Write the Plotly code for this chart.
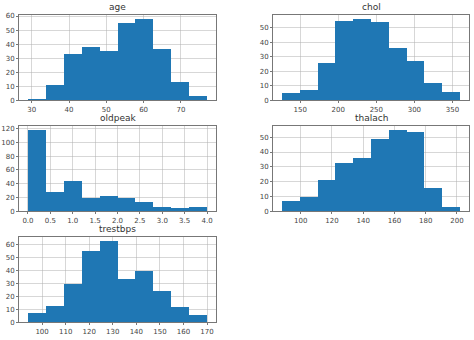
import plotly.graph_objects as go

# Histogram data (10 bins each)
age_range = [29, 77]
age_counts = [1, 11, 33, 38, 35, 55, 58, 37, 13, 3]
chol_range = [126, 360]
chol_counts = [5, 7, 26, 55, 56, 54, 36, 27, 12, 6]
oldpeak_range = [0.0, 4.0]
oldpeak_counts = [118, 28, 44, 20, 23, 19, 14, 7, 5, 6]
thalach_range = [88, 202]
thalach_counts = [7, 10, 21, 33, 36, 49, 55, 54, 16, 3]
trestbps_range = [94, 170]
trestbps_counts = [7, 13, 30, 55, 63, 34, 40, 24, 12, 6]

age_xticks = [30, 40, 50, 60, 70]
chol_xticks = [150, 200, 250, 300, 350]
oldpeak_xticks = [0.0, 0.5, 1.0, 1.5, 2.0, 2.5, 3.0, 3.5, 4.0]
thalach_xticks = [100, 120, 140, 160, 180, 200]
trestbps_xticks = [100, 110, 120, 130, 140, 150, 160, 170]

panels = [
    ("age", age_range, age_counts, age_xticks, list(range(0, 61, 10)), None),
    ("chol", chol_range, chol_counts, chol_xticks, list(range(0, 51, 10)), None),
    ("oldpeak", oldpeak_range, oldpeak_counts, oldpeak_xticks, list(range(0, 121, 20)), ".1f"),
    ("thalach", thalach_range, thalach_counts, thalach_xticks, list(range(0, 51, 10)), None),
    ("trestbps", trestbps_range, trestbps_counts, trestbps_xticks, list(range(0, 61, 10)), None),
]

W, H = 474, 340
cols_px = [(19, 216), (273, 469)]
rows_px = [(13, 100), (126, 213), (239, 326)]

fig = go.Figure()
font = dict(family="DejaVu Sans", size=7, color="#444")
grid = "rgba(176,176,176,0.5)"

for i, (name, rng, counts, xt, yt, fmt) in enumerate(panels):
    r, c = divmod(i, 2)
    n = len(counts)
    w = (rng[1] - rng[0]) / n
    centers = [rng[0] + w * (k + 0.5) for k in range(n)]
    ax = "" if i == 0 else str(i + 1)
    fig.add_trace(go.Bar(x=centers, y=counts, width=w, marker=dict(color="#1f77b4", line=dict(width=0)),
                         xaxis="x" + ax, yaxis="y" + ax, showlegend=False))
    x0, x1 = cols_px[c]
    y0, y1 = rows_px[r]
    d = rng[1] - rng[0]
    xa = dict(domain=[x0 / W, x1 / W], anchor="y" + ax, range=[rng[0] - 0.05 * d, rng[1] + 0.05 * d],
              tickvals=xt, tickformat=fmt, showgrid=True, gridcolor=grid, gridwidth=1,
              showline=True, linecolor="#777", linewidth=1, mirror=True, ticks="outside", ticklen=2,
              tickcolor="#777", tickfont=font, zeroline=False, layer="above traces")
    ya = dict(domain=[1 - y1 / H, 1 - y0 / H], anchor="x" + ax, range=[0, max(counts) * 1.05],
              tickvals=yt, showgrid=True, gridcolor=grid, gridwidth=1,
              showline=True, linecolor="#777", linewidth=1, mirror=True, ticks="outside", ticklen=2,
              tickcolor="#777", tickfont=font, zeroline=False, layer="above traces")
    fig.update_layout(**{"xaxis" + ax: xa, "yaxis" + ax: ya})
    fig.add_annotation(text=name, x=(x0 + x1) / 2 / W, y=1 - y0 / H, xref="paper", yref="paper",
                       xanchor="center", yanchor="bottom", yshift=1, showarrow=False,
                       font=dict(family="DejaVu Sans", size=9, color="#333"))

fig.update_layout(width=W, height=H, margin=dict(l=0, r=0, t=0, b=0), bargap=0,
                  paper_bgcolor="white", plot_bgcolor="white")
fig.write_html("out.html")
